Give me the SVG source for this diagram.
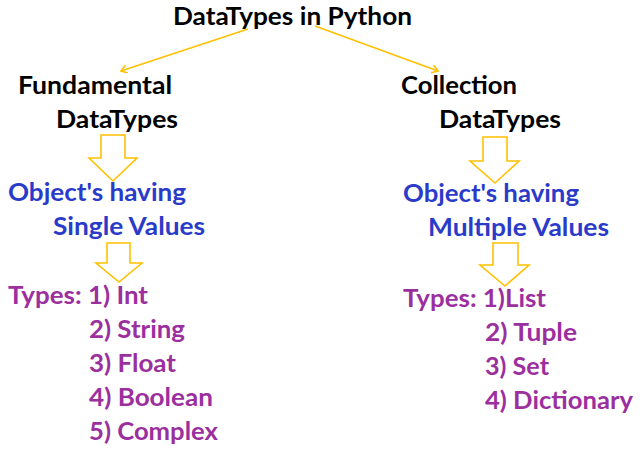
<svg xmlns="http://www.w3.org/2000/svg" width="640" height="451" viewBox="0 0 640 451">
<style>
text{font-family:Lato,"Open Sans","Liberation Sans",sans-serif;font-weight:700;font-size:24px}
.k{fill:#000}
.b{fill:#2B3BC9}
.p{fill:#9B2F9E}
.blk{fill:#fff;stroke:#FFC000;stroke-width:1.6;stroke-linejoin:miter}
.ln{fill:none;stroke:#FFC000;stroke-width:1.6}
</style>
<defs>
<marker id="ah" markerWidth="10" markerHeight="10" refX="7" refY="4" orient="auto" markerUnits="userSpaceOnUse">
<path d="M1,0 L7,4 L1,8" fill="none" stroke="#FFC000" stroke-width="1.6"/>
</marker>
</defs>
<rect width="640" height="451" fill="#fff"/>
<g id="connectors">
<line class="ln" x1="248" y1="29" x2="121" y2="71" marker-end="url(#ah)"/>
<line class="ln" x1="315" y1="26" x2="438" y2="71" marker-end="url(#ah)"/>
<polygon class="blk" points="101,135 125,135 125,158 137,158 113,181 89,158 101,158"/>
<polygon class="blk" points="107,243 130,243 130,263 142,263 119,282 96,263 107,263"/>
<polygon class="blk" points="483,137 507,137 507,161 519,161 495,183 470,161 483,161"/>
<polygon class="blk" points="493,243 518,243 518,265 529,265 505,286 480,265 493,265"/>
</g>
<g id="title"><text class="k" x="173" y="25" textLength="239" lengthAdjust="spacingAndGlyphs">DataTypes in Python</text></g>
<g id="fundamental">
<text class="k" x="18" y="94" textLength="154" lengthAdjust="spacingAndGlyphs">Fundamental</text>
<text class="k" x="56" y="128" textLength="122" lengthAdjust="spacingAndGlyphs">DataTypes</text>
</g>
<g id="collection">
<text class="k" x="401" y="94" textLength="116" lengthAdjust="spacingAndGlyphs">Collection</text>
<text class="k" x="439" y="128" textLength="122" lengthAdjust="spacingAndGlyphs">DataTypes</text>
</g>
<g id="single">
<text class="b" x="8" y="201" textLength="178" lengthAdjust="spacingAndGlyphs">Object's having</text>
<text class="b" x="53" y="235" textLength="152" lengthAdjust="spacingAndGlyphs">Single Values</text>
</g>
<g id="multiple">
<text class="b" x="403" y="202" textLength="176" lengthAdjust="spacingAndGlyphs">Object's having</text>
<text class="b" x="428" y="236" textLength="181" lengthAdjust="spacingAndGlyphs">Multiple Values</text>
</g>
<g id="fundamental-types">
<text class="p" x="8" y="304" textLength="140" lengthAdjust="spacingAndGlyphs">Types: 1) Int</text>
<text class="p" x="89" y="338" textLength="96" lengthAdjust="spacingAndGlyphs">2) String</text>
<text class="p" x="89" y="372" textLength="87" lengthAdjust="spacingAndGlyphs">3) Float</text>
<text class="p" x="89" y="406" textLength="124" lengthAdjust="spacingAndGlyphs">4) Boolean</text>
<text class="p" x="89" y="440" textLength="129" lengthAdjust="spacingAndGlyphs">5) Complex</text>
</g>
<g id="collection-types">
<text class="p" x="403" y="307" textLength="143" lengthAdjust="spacingAndGlyphs">Types: 1)List</text>
<text class="p" x="485" y="341" textLength="92" lengthAdjust="spacingAndGlyphs">2) Tuple</text>
<text class="p" x="485" y="375" textLength="64" lengthAdjust="spacingAndGlyphs">3) Set</text>
<text class="p" x="485" y="409" textLength="148" lengthAdjust="spacingAndGlyphs">4) Dictionary</text>
</g>
</svg>
